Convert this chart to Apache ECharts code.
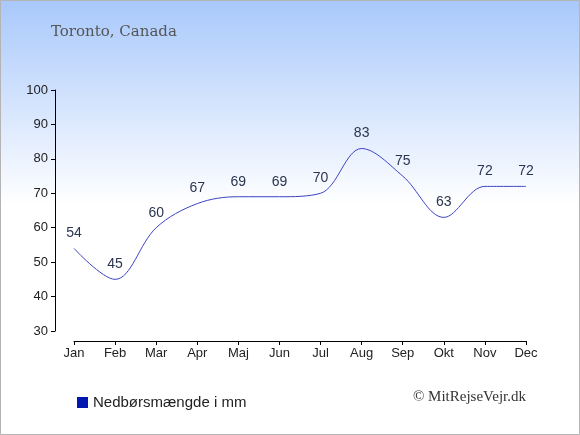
<!DOCTYPE html>
<html><head><meta charset="utf-8">
<script src="https://cdn.jsdelivr.net/npm/echarts@6/dist/echarts.min.js"></script>
<style>html,body{margin:0;padding:0;}#c{width:580px;height:435px;}</style>
</head><body><div id="c"></div>
<script>
const months = ['Jan','Feb','Mar','Apr','Maj','Jun','Jul','Aug','Sep','Okt','Nov','Dec'];
const precipitation = [54,45,60,67,69,69,70,83,75,63,72,72];
const yTicks = {min:30, max:100, interval:10};
const titleText = 'Toronto, Canada';
const seriesName = 'Nedbørsmængde i mm';
const credit = '© MitRejseVejr.dk';

const chart = echarts.init(document.getElementById('c'));
chart.setOption({
  animation:false,
  backgroundColor: new echarts.graphic.LinearGradient(0,0,0,1,[
    {offset:0,color:'#a8c8fb'},{offset:0.47,color:'#ffffff'},{offset:1,color:'#ffffff'}]),
  title:{text:titleText,left:46,top:20,textStyle:{fontFamily:'DejaVu Serif',fontWeight:'normal',fontSize:15,color:'#555555'}},
  legend:{data:[{name:seriesName,icon:'rect',itemStyle:{color:'#0018b0',opacity:1}}],left:72,top:390,itemWidth:11,itemHeight:11,itemGap:6,
    textStyle:{fontFamily:'Liberation Sans',fontSize:15,color:'#222222'}},
  grid:{left:74,right:54,top:90,bottom:104},
  xAxis:{type:'category',data:months,boundaryGap:false,offset:10,
    axisLine:{lineStyle:{color:'#000',width:1}},
    axisTick:{length:4,lineStyle:{color:'#000'}},
    axisLabel:{color:'#222',fontFamily:'Liberation Sans',fontSize:13,margin:6}},
  yAxis:{type:'value',min:yTicks.min,max:yTicks.max,interval:yTicks.interval,offset:19,
    axisLine:{show:true,lineStyle:{color:'#000',width:1}},
    axisTick:{show:true,length:4,lineStyle:{color:'#000'}},
    splitLine:{show:false},
    axisLabel:{color:'#222',fontFamily:'Liberation Sans',fontSize:13,margin:7}},
  series:[{name:seriesName,type:'line',data:precipitation,smooth:0.35,
    symbol:'circle',symbolSize:2,showSymbol:true,
    itemStyle:{color:'rgba(0,0,0,0)',borderWidth:0},
    lineStyle:{color:'#3c43c4',width:1},
    label:{show:true,position:'top',distance:7,color:'#2a3550',fontFamily:'Liberation Sans',fontSize:14}}],
  graphic:[
    {type:'text',right:54,top:390,style:{text:credit,fontFamily:'Liberation Serif',fontSize:15,fill:'#333'}},
    {type:'rect',shape:{x:0.5,y:0.5,width:579,height:434},style:{fill:'none',stroke:'#b4b4b4',lineWidth:1},silent:true}
  ]
});
</script></body></html>
